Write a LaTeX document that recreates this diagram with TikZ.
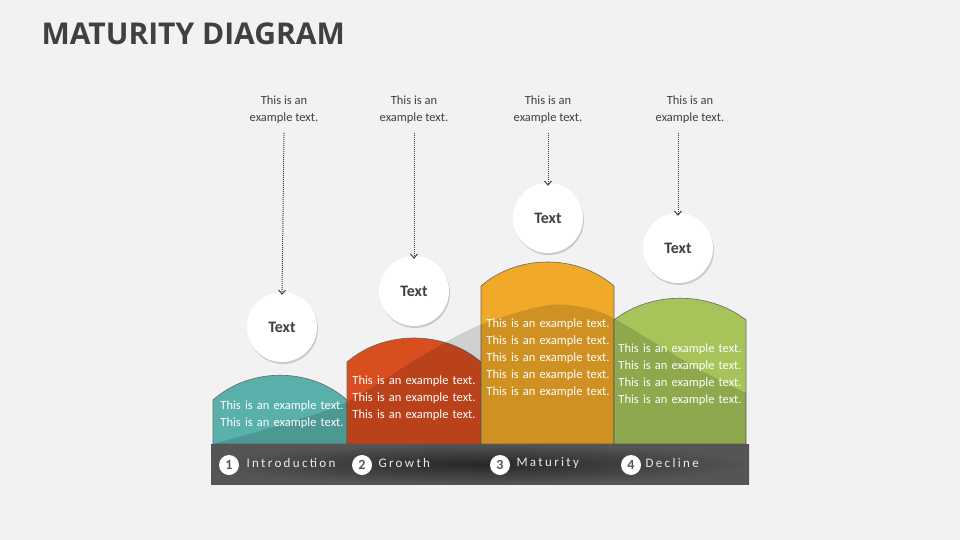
\documentclass[tikz,border=0pt]{standalone}
\usepackage{fontspec}
\setmainfont{Carlito}
\newfontfamily\titlefont{Open Sans}
\usetikzlibrary{shadows,arrows.meta}
\definecolor{bg}{HTML}{F2F2F2}
\definecolor{tealc}{HTML}{5AB1AB}
\definecolor{redc}{HTML}{D94E1F}
\definecolor{yelc}{HTML}{F0A928}
\definecolor{grnc}{HTML}{A6C45A}
\definecolor{barc}{HTML}{555555}
\definecolor{txtc}{HTML}{404040}
\tikzset{
  x=1pt,y=-1pt,
  bump/.style={draw=black!60,line width=0.6pt},
  bodytext/.style={text=white,align=center,font=\fontsize{12.5}{17}\selectfont,text width=125pt},
  topnote/.style={text=txtc,align=center,font=\fontsize{12.5}{17}\selectfont},
  bubble/.style={circle,fill=white,minimum size=70pt,inner sep=0pt,drop shadow={opacity=0.35,shadow xshift=1pt,shadow yshift=-2pt},font=\bfseries\fontsize{16}{18}\selectfont,text=txtc},
  numc/.style={circle,fill=white,minimum size=20pt,inner sep=0pt,font=\bfseries\fontsize{14}{14}\selectfont,text=barc},
  stage/.style={anchor=west,text=white!92!black,font=\fontsize{13}{14}\selectfont\addfontfeature{LetterSpace=18}},
  arr/.style={densely dotted,line width=1pt,draw=txtc,-{Straight Barb[length=4pt,width=7pt]}}
}
\begin{document}
\begin{tikzpicture}
\fill[bg] (0,0) rectangle (960,540);
\useasboundingbox (0,0) rectangle (960,540);
\node[anchor=west,font=\titlefont\bfseries\fontsize{30}{32}\selectfont,text=txtc] (title) at (38,34) {MATURITY DIAGRAM};
% bumps
\draw[bump,fill=tealc] (213,444) -- (213,400) .. controls (250,367) and (310,367) .. (347,400) -- (347,444) -- cycle;
\draw[bump,fill=redc] (347,444) -- (347,362) .. controls (384,330) and (444,330) .. (481,362) -- (481,444) -- cycle;
\draw[bump,fill=yelc] (481,444) -- (481,286) .. controls (518,254) and (577,254) .. (614,286) -- (614,444) -- cycle;
\draw[bump,fill=grnc] (614,444) -- (614,320) .. controls (651,291) and (709,291) .. (746,320) -- (746,444) -- cycle;
% overlay curve
\fill[black,opacity=0.14] plot[smooth] coordinates {(213,444)(280,425)(347,402)(420,357)(480,325)(550,305)(600,312)(650,340)(700,370)(746,393)} -- (746,444) -- cycle;
% body texts
\node[bodytext] (b1) at (282,415) {This is an example text. This is an example text.};
\node[bodytext] (b2) at (414,398) {This is an example text. This is an example text.\\This is an example text.};
\node[bodytext] (b3) at (548,358) {This is an example text. This is an example text.\\This is an example text.\\This is an example text.\\This is an example text.};
\node[bodytext] (b4) at (680,375) {This is an example text. This is an example text.\\This is an example text.\\This is an example text.};
% bottom bar
\shade[inner color=black!90!barc,outer color=barc] (211,444) rectangle (749,484);
\fill[barc,opacity=0.4] (211,444) rectangle (749,484);
\node[numc] (n1) at (229,465) {1};
\node[numc] (n2) at (362,465) {2};
\node[numc] (n3) at (500,465) {3};
\node[numc] (n4) at (631,465) {4};
\node[stage] (s1) at (243,463) {Introduction};
\node[stage] (s2) at (375,463) {Growth};
\node[stage] (s3) at (513,463) {Maturity};
\node[stage] (s4) at (642,463) {Decline};
% bubbles
\node[bubble] (c1) at (282,327) {Text};
\node[bubble] (c2) at (414,291) {Text};
\node[bubble] (c3) at (548,218) {Text};
\node[bubble] (c4) at (678,248) {Text};
% top notes
\node[topnote] (t1) at (284,110) {This is an\\example text.};
\node[topnote] (t2) at (414,110) {This is an\\example text.};
\node[topnote] (t3) at (548,110) {This is an\\example text.};
\node[topnote] (t4) at (690,110) {This is an\\example text.};
\coordinate (a1) at (284,133); \coordinate (a2) at (414,133);
\coordinate (a3) at (548,133); \coordinate (a4) at (678,133);
\draw[arr] (a1) -- ([yshift=-3pt]c1.north);
\draw[arr] (a2) -- ([yshift=-3pt]c2.north);
\draw[arr] (a3) -- ([yshift=-3pt]c3.north);
\draw[arr] (a4) -- ([yshift=-3pt]c4.north);
\end{tikzpicture}
\end{document}
